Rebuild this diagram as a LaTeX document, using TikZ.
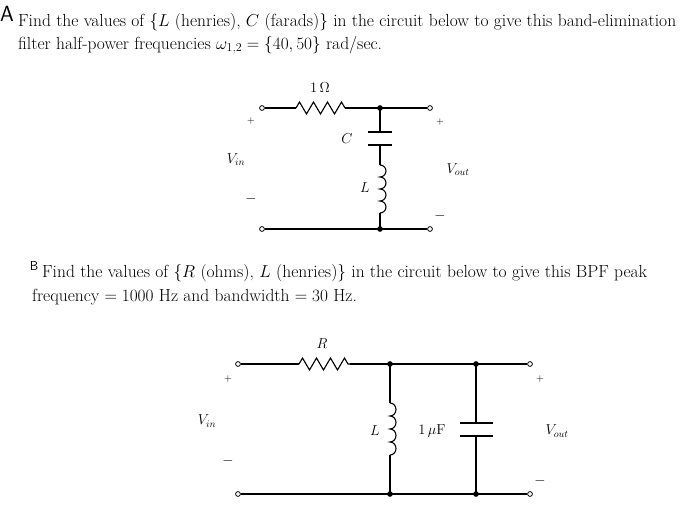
\documentclass[tikz,border=0pt]{standalone}
\usetikzlibrary{decorations.pathmorphing}
\begin{document}
\begin{tikzpicture}[x=1pt,y=-1pt,
  wire/.style={line width=1.1pt},
  term/.style={circle,draw,line width=0.8pt,fill=white,inner sep=1.7pt},
  dot/.style={circle,fill,inner sep=2pt},
  res/.style={decorate,decoration={zigzag,segment length=14pt,amplitude=6pt}},
  lbl/.style={font=\fontsize{14}{16}\selectfont},
  sml/.style={font=\fontsize{10}{12}\selectfont},
  txt/.style={anchor=west,font=\fontsize{17.5}{20}\selectfont,inner sep=0}]
\useasboundingbox (0,0) rectangle (700,518);
% text
\node[anchor=west,inner sep=0,font=\fontsize{22}{22}\selectfont\sffamily] (la) at (0,14) {A};
\node[txt] (t1) at (18,22) {Find the values of $\{L$ (henries), $C$ (farads)$\}$ in the circuit below to give this band-elimination};
\node[txt] (t2) at (18,45) {filter half-power frequencies $\omega_{1,2}=\{40,50\}$ rad/sec.};
\node[inner sep=0,font=\fontsize{13}{13}\selectfont\sffamily] (lb) at (34,266) {B};
\node[txt] (t3) at (32,273) {\hspace{10pt}Find the values of $\{R$ (ohms), $L$ (henries)$\}$ in the circuit below to give this BPF peak};
\node[txt] (t4) at (32,297) {frequency $=1000$ Hz and bandwidth $=30$ Hz.};
% circuit A
\coordinate (a1) at (296,108); \coordinate (a2) at (345,108);
\coordinate (aj) at (380,108); \coordinate (ab) at (380,229);
\coordinate (ac1) at (380,132); \coordinate (ac2) at (380,145);
\coordinate (al1) at (380,165); \coordinate (al2) at (380,213);
\node[term] (at1) at (262,108) {}; \node[term] (at2) at (430,108) {};
\node[term] (ab1) at (262,229) {}; \node[term] (ab2) at (430,229) {};
\draw[wire] (at1) -- (a1); \draw[wire,res] (a1) -- (a2); \draw[wire] (a2) -- (at2);
\draw[wire] (ab1) -- (ab2);
\draw[wire] (aj) -- (ac1); \draw[wire] (368,132) -- (392,132); \draw[wire] (368,145) -- (392,145);
\draw[wire] (ac2) -- (al1);
\draw[wire] (al1) \foreach \i in {0,...,3}{ arc[start angle=90,end angle=-90,x radius=6pt,y radius=6pt] };
\draw[wire] (al2) -- (ab);
\node[dot] (ajd) at (aj) {}; \node[dot] (abd) at (ab) {};
\node[lbl] (ar) at (320,88) {$1\,\Omega$};
\node[lbl] (aC) at (347,139) {$C$};
\node[lbl] (aL) at (365,188) {$L$};
\node[lbl] (avi) at (236,160) {$V_{in}$};
\node[lbl] (avo) at (458,170) {$V_{out}$};
\node[sml] (ap1) at (251,121) {$+$}; \node[sml] (ap2) at (440,122) {$+$};
\node[lbl] (am1) at (251,199) {$-$}; \node[lbl] (am2) at (440,216) {$-$};
% circuit B
\coordinate (b1) at (299,364); \coordinate (b2) at (350,364);
\coordinate (bj1) at (390,364); \coordinate (bj2) at (476,364);
\coordinate (bk1) at (390,494); \coordinate (bk2) at (476,494);
\coordinate (bl1) at (390,403); \coordinate (bl2) at (390,455);
\node[term] (bt1) at (238,364) {}; \node[term] (bt2) at (530,364) {};
\node[term] (bb1) at (238,494) {}; \node[term] (bb2) at (530,494) {};
\draw[wire] (bt1) -- (b1); \draw[wire,res] (b1) -- (b2); \draw[wire] (b2) -- (bt2);
\draw[wire] (bb1) -- (bb2);
\draw[wire] (bj1) -- (bl1);
\draw[wire] (bl1) \foreach \i in {0,...,3}{ arc[start angle=90,end angle=-90,x radius=6pt,y radius=6.5pt] };
\draw[wire] (bl2) -- (bk1);
\draw[wire] (bj2) -- (476,423); \draw[wire] (460,423) -- (493,423); \draw[wire] (460,436) -- (493,436); \draw[wire] (476,436) -- (bk2);
\foreach \p in {bj1,bj2,bk1,bk2} \node[dot] at (\p) {};
\node[lbl] (bR) at (322,344) {$R$};
\node[lbl] (bL) at (375,431) {$L$};
\node[lbl] (bC) at (432,431) {$1\,\mu\mathrm{F}$};
\node[lbl] (bvi) at (207,421) {$V_{in}$};
\node[lbl] (bvo) at (557,431) {$V_{out}$};
\node[sml] (bp1) at (228,379) {$+$}; \node[sml] (bp2) at (540,379) {$+$};
\node[lbl] (bm1) at (228,461) {$-$}; \node[lbl] (bm2) at (540,481) {$-$};
\end{tikzpicture}
\end{document}
